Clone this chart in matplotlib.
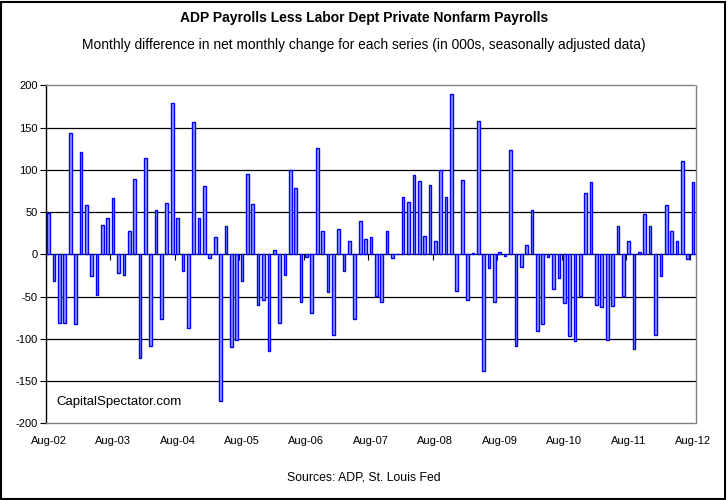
import numpy as np
import matplotlib
matplotlib.use("Agg")
import matplotlib.pyplot as plt
from matplotlib.patches import Rectangle

plt.rcParams['font.family'] = ['Liberation Sans', 'DejaVu Sans']

# monthly difference ADP - BLS private payrolls (000s), Aug-02 .. Aug-12
diff = [49, -32, -81, -81, 144, -82, 121, 58, -26, -48, 35, 43,
        67, -22, -25, 28, 89, -123, 114, -108, 53, -77, 61, 179,
        43, -20, -87, 156, 43, 81, -4, 20, -174, 34, -110, -101,
        -32, 95, 60, -60, -54, -115, 5, -81, -24, 100, 78, -56,
        -3, -70, 126, 27, -45, -96, 30, -20, 16, -76, 39, 18,
        21, -49, -56, 27, -4, 0, 68, 62, 94, 87, 22, 82,
        16, 100, 68, 190, -44, 88, -54, 2, 158, -138, -16, -57,
        3, -2, 123, -108, -15, 11, 53, -91, -83, -3, -41, -28,
        -58, -97, -103, -49, 73, 85, -60, -62, -102, -61, 34, -49,
        16, -112, 3, 48, 33, -95, -26, 58, 27, 16, 111, -5, 86]
year_labels = ['Aug-02', 'Aug-03', 'Aug-04', 'Aug-05', 'Aug-06', 'Aug-07',
               'Aug-08', 'Aug-09', 'Aug-10', 'Aug-11', 'Aug-12']
yticks = [-200, -150, -100, -50, 0, 50, 100, 150, 200]

n = len(diff)
x = np.arange(n) + 0.5

fig = plt.figure(figsize=(7.28, 5.0), dpi=100)
ax = fig.add_axes([46 / 728, 1 - 423.3 / 500, 649.8 / 728, 338 / 500])

ax.bar(x, diff, width=0.5, color='#9999ff', edgecolor='#0000ff', linewidth=1.0, zorder=3)

ax.set_xlim(0, n)
ax.set_ylim(-200, 200)
ax.set_yticks(yticks)
ax.set_yticklabels([str(v) for v in yticks], fontsize=8)
ax.tick_params(axis='y', direction='out', length=4, width=0.8, pad=2)

# labels centred on the August bars, no tick marks at the bottom
ax.set_xticks(x[::12])
ax.set_xticklabels(year_labels, fontsize=8)
ax.tick_params(axis='x', length=0, pad=9)

# horizontal gridlines (not at the plot border)
for v in yticks[1:-1]:
    ax.axhline(v, color='black', linewidth=0.9, zorder=1)

# small tick marks on the zero line at year boundaries, pointing down
sec = ax.secondary_xaxis(0.5)
sec.set_xticks(np.arange(0, n, 12))
sec.set_xticklabels([])
sec.tick_params(direction='in', length=4, width=0.8)
for s in sec.spines.values():
    s.set_visible(False)

for side in ['top', 'right', 'bottom']:
    ax.spines[side].set_linestyle((0, (1, 1)))
    ax.spines[side].set_color('#808080')
    ax.spines[side].set_linewidth(1.0)
ax.spines['left'].set_color('black')
ax.spines['left'].set_linewidth(1.0)

ax.text(0.016, 0.064, 'CapitalSpectator.com', transform=ax.transAxes,
        fontsize=9.5, ha='left', va='center', zorder=4)

fig.text(0.5, 1 - 18 / 500, 'ADP Payrolls Less Labor Dept Private Nonfarm Payrolls',
         ha='center', va='center', fontsize=10, fontweight='bold')
fig.text(0.5, 1 - 45 / 500,
         'Monthly difference in net monthly change for each series (in 000s, seasonally adjusted data)',
         ha='center', va='center', fontsize=9.9)
fig.text(0.5, 1 - 477 / 500, 'Sources: ADP, St. Louis Fed',
         ha='center', va='center', fontsize=8.8)

fig.add_artist(Rectangle((0.002, 0.003), 0.994, 0.994, transform=fig.transFigure,
                         fill=False, edgecolor='black', linewidth=1.5))

fig.savefig('out.png', dpi=100)
